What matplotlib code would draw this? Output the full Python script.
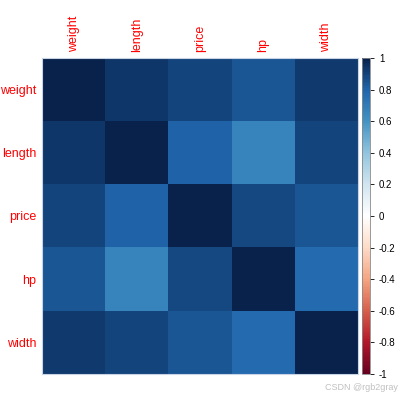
import numpy as np
import matplotlib.pyplot as plt
from matplotlib.colors import LinearSegmentedColormap

plt.rcParams['font.family'] = ['Liberation Sans', 'DejaVu Sans']

# correlation matrix of car variables
labels = ["weight", "length", "price", "hp", "width"]
weight = [1.00, 0.93, 0.89, 0.84, 0.92]
length = [0.93, 1.00, 0.80, 0.66, 0.89]
price = [0.89, 0.80, 1.00, 0.88, 0.84]
hp = [0.84, 0.66, 0.88, 1.00, 0.77]
width = [0.92, 0.89, 0.84, 0.77, 1.00]
corr = np.array([weight, length, price, hp, width])

cbar_ticks = [1, 0.8, 0.6, 0.4, 0.2, 0, -0.2, -0.4, -0.6, -0.8, -1]

# corrplot RdBu palette
cols = ["#67001F", "#B2182B", "#D6604D", "#F4A582", "#FDDBC7", "#FFFFFF",
        "#D1E5F0", "#92C5DE", "#4393C3", "#2166AC", "#08224C"]
cmap = LinearSegmentedColormap.from_list("rdbu", cols, N=200)

fig = plt.figure(figsize=(4, 4), dpi=100)
ax = fig.add_axes([0.105, 0.065, 0.79, 0.79])
im = ax.imshow(corr, cmap=cmap, vmin=-1, vmax=1, aspect="auto")

ax.set_xticks(range(len(labels)))
ax.set_yticks(range(len(labels)))
ax.set_xticklabels(labels, rotation=90, color="red", fontsize=9)
ax.set_yticklabels(labels, color="red", fontsize=9)
ax.xaxis.tick_top()
ax.tick_params(length=0, pad=4)
for s in ax.spines.values():
    s.set_color("#c8d4e4")
    s.set_linewidth(0.8)

cax = fig.add_axes([0.905, 0.065, 0.02, 0.79])
cb = fig.colorbar(im, cax=cax, ticks=cbar_ticks)
cb.ax.tick_params(labelsize=7, length=3, width=0.6)
cb.ax.set_yticklabels([f"{t:g}" for t in cbar_ticks])
cb.outline.set_edgecolor("#888888")
cb.outline.set_linewidth(0.6)

fig.text(0.995, 0.02, "CSDN @rgb2gray", ha="right", va="bottom",
         fontsize=6.5, color="#c0c0c0")

plt.savefig("out.png", dpi=100)
